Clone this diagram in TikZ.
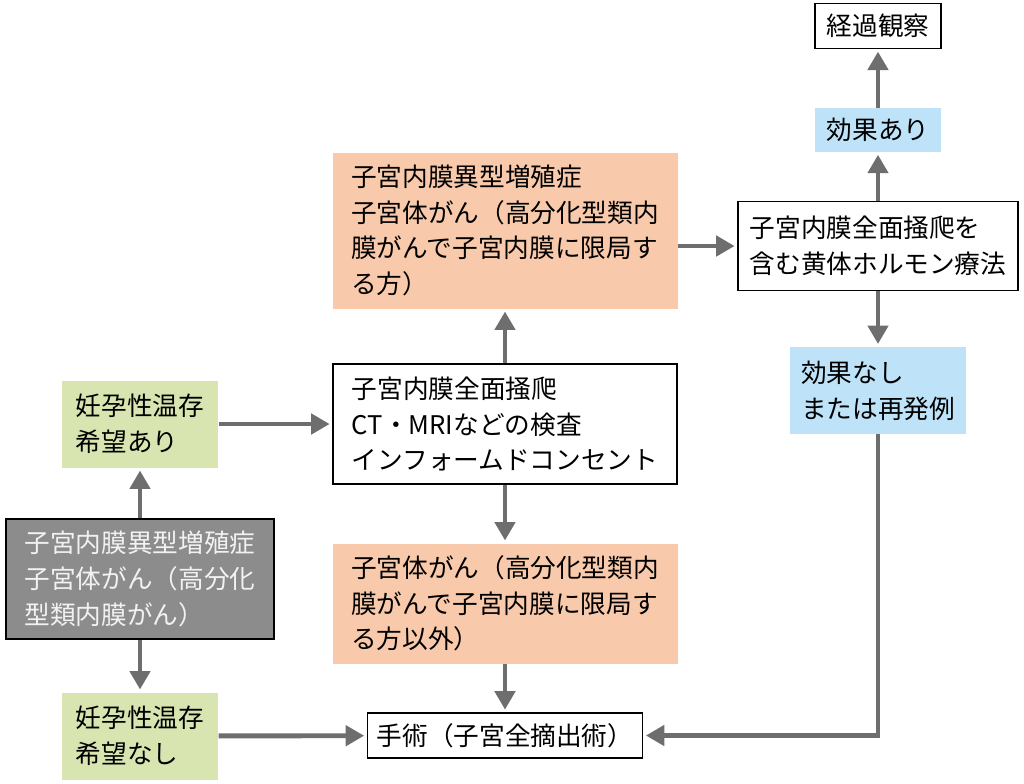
\documentclass[tikz,border=0pt]{standalone}
\usepackage{fontspec}
\setmainfont{Noto Sans CJK JP}
\usepackage{xcolor}
\usepackage{tikz}
\definecolor{peach}{RGB}{248,201,170}
\definecolor{paleolive}{RGB}{216,229,177}
\definecolor{skyblue}{RGB}{190,227,248}
\definecolor{boxgray}{RGB}{140,140,140}
\definecolor{arrowgray}{RGB}{110,110,110}
\usetikzlibrary{arrows.meta}

\begin{document}
\begin{tikzpicture}[
	box/.style={rectangle, align=left, inner sep=0pt, font=\fontsize{14.6pt}{20.3pt}\selectfont},
	plainbox/.style={box, draw=black, line width=0.8pt, fill=white},
	peachbox/.style={box, fill=peach, minimum width=6.9cm},
	greenbox/.style={box, fill=paleolive, minimum width=3.13cm, minimum height=1.74cm},
	bluebox/.style={box, fill=skyblue},
	graybox/.style={box, draw=black, line width=0.8pt, fill=boxgray, text=white!95!black},
	flow/.style={-{Triangle[length=0.37cm, width=0.4cm]}, line width=2.8pt, draw=arrowgray, shorten >=1.5pt}
	]
	\useasboundingbox (0,0) rectangle (20.48,-15.66);
	
	\node[graybox, minimum width=5.36cm, minimum height=2.4cm] (cancer) at (2.8,-11.58) {子宮内膜異型増殖症\\子宮体がん（高分化\\型類内膜がん）};
	
	\node[greenbox, above of=cancer, yshift=2.1cm] (wishyes) {妊孕性温存\\希望あり};
	
	\node[greenbox, below of=cancer, yshift=-2.14cm] (wishno) {妊孕性温存\\希望なし};
	
	\node[plainbox, right of=wishyes, xshift=6.3cm, minimum width=6.88cm, minimum height=2.4cm] (exam) {子宮内膜全面掻爬\\CT・MRIなどの検査\\インフォームドコンセント};
	
	\node[peachbox, above of=exam, yshift=2.87cm, minimum height=3.12cm] (localized) {子宮内膜異型増殖症\\子宮体がん（高分化型類内\\膜がんで子宮内膜に限局す\\る方）};
	
	\node[peachbox, below of=exam, yshift=-2.59cm, minimum height=2.4cm] (other) {子宮体がん（高分化型類内\\膜がんで子宮内膜に限局す\\る方以外）};
	
	\node[plainbox, below of=other, yshift=-1.64cm, minimum width=5.5cm, minimum height=0.9cm] (surgery) {手術（子宮全摘出術）};
	
	\node[plainbox, right of=localized, xshift=6.46cm, yshift=-0.31cm, minimum width=5.6cm, minimum height=1.79cm] (hormone) {子宮内膜全面掻爬を\\含む黄体ホルモン療法};
	
	\node[bluebox, above of=hormone, yshift=1.32cm, minimum width=2.52cm, minimum height=0.87cm] (effyes) {効果あり};
	
	\node[plainbox, above of=effyes, yshift=1.08cm, minimum width=2.52cm, minimum height=0.89cm] (observe) {経過観察};
	
	\node[bluebox, below of=hormone, yshift=-1.89cm, minimum width=3.52cm, minimum height=1.74cm] (effno) {効果なし\\または再発例};
	
	\draw[flow] (cancer) -- (wishyes);
	
	\draw[flow] (cancer) -- (wishno);
	
	\draw[flow] (wishyes) -- (exam);
	
	\draw[flow] (exam) -- (localized);
	
	\draw[flow] (exam) -- (other);
	
	\draw[flow] (other) -- (surgery);
	
	\draw[flow] (wishno) -- (surgery);
	
	\draw[flow] (localized.east |- hormone.west) -- (hormone);
	
	\draw[flow] (hormone) -- (effyes);
	
	\draw[flow] (effyes) -- (observe);
	
	\draw[flow] (hormone) -- (effno);
	
	\draw[flow] (effno) |- (surgery);
\end{tikzpicture}
\end{document}
